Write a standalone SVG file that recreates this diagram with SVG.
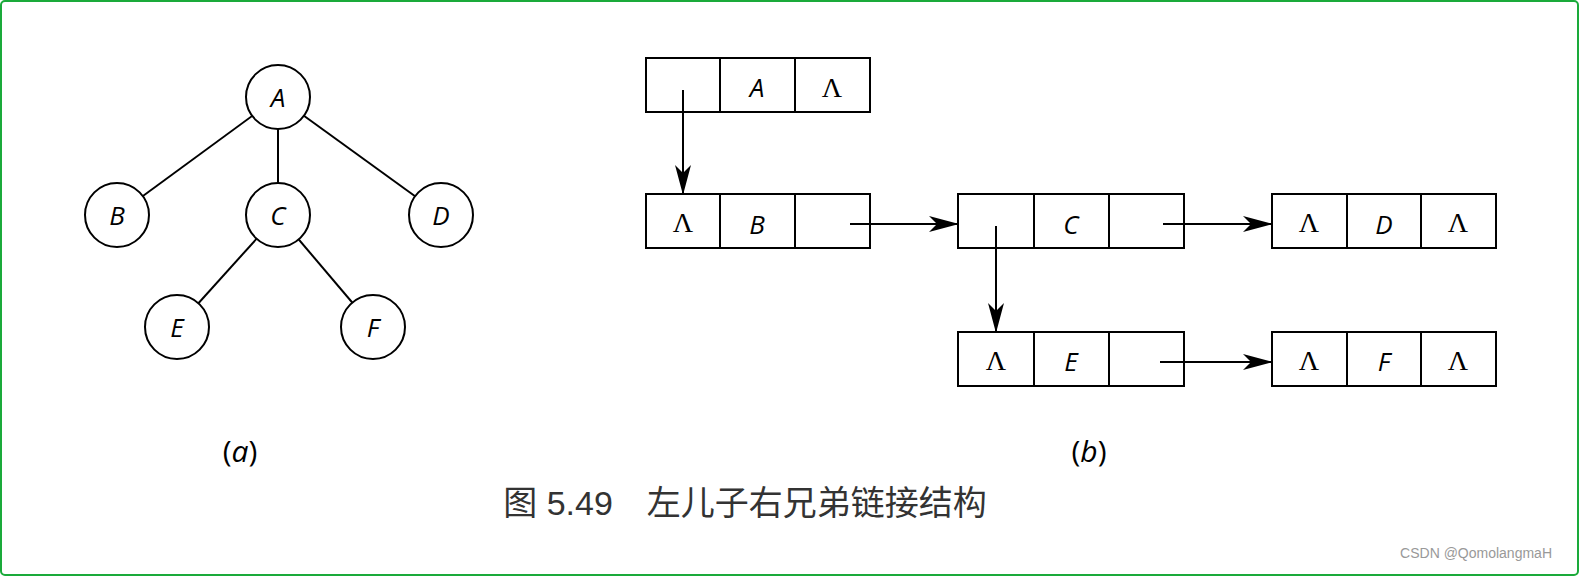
<svg xmlns="http://www.w3.org/2000/svg" width="1579" height="576" viewBox="0 0 1579 576">
<style>
.n{fill:#fff;stroke:#000;stroke-width:2}
.e{stroke:#000;stroke-width:2;fill:none}
.t{font-family:"Open Sans","Liberation Sans",sans-serif;font-style:italic;font-size:26px;text-anchor:middle;dominant-baseline:central}
.l{font-family:"Liberation Serif",serif;font-size:28px;text-anchor:middle;dominant-baseline:central}
</style>
<defs><marker id="ar" markerWidth="30" markerHeight="16" refX="28" refY="8" orient="auto" markerUnits="userSpaceOnUse"><path d="M0,0 L30,8 L0,16 L8,8 Z" fill="#000"/></marker></defs>
<rect x="1" y="1" width="1577" height="574" rx="4" fill="#fff" stroke="#1aaa3a" stroke-width="2"/>
<g id="edges">
<line class="e" x1="278" y1="97" x2="117" y2="215"/><line class="e" x1="278" y1="97" x2="278" y2="215"/><line class="e" x1="278" y1="97" x2="441" y2="215"/>
<line class="e" x1="278" y1="215" x2="177" y2="327"/><line class="e" x1="278" y1="215" x2="373" y2="327"/>
</g>
<g id="A"><circle class="n" cx="278" cy="97" r="32"/><text class="t" x="278" y="97">A</text></g>
<g id="B"><circle class="n" cx="117" cy="215" r="32"/><text class="t" x="117" y="215">B</text></g>
<g id="C"><circle class="n" cx="278" cy="215" r="32"/><text class="t" x="278" y="215">C</text></g>
<g id="D"><circle class="n" cx="441" cy="215" r="32"/><text class="t" x="441" y="215">D</text></g>
<g id="E"><circle class="n" cx="177" cy="327" r="32"/><text class="t" x="177" y="327">E</text></g>
<g id="F"><circle class="n" cx="373" cy="327" r="32"/><text class="t" x="373" y="327">F</text></g>
<g id="bA"><rect class="n" x="646" y="58" width="224" height="54"/><line class="e" x1="720" y1="58" x2="720" y2="112"/><line class="e" x1="795" y1="58" x2="795" y2="112"/><text class="t" x="757" y="87">A</text><text class="l" x="832" y="87">Λ</text></g>
<g id="bB"><rect class="n" x="646" y="194" width="224" height="54"/><line class="e" x1="720" y1="194" x2="720" y2="248"/><line class="e" x1="795" y1="194" x2="795" y2="248"/><text class="l" x="683" y="222">Λ</text><text class="t" x="757" y="224">B</text></g>
<g id="bC"><rect class="n" x="958" y="194" width="226" height="54"/><line class="e" x1="1034" y1="194" x2="1034" y2="248"/><line class="e" x1="1109" y1="194" x2="1109" y2="248"/><text class="t" x="1071" y="224">C</text></g>
<g id="bD"><rect class="n" x="1272" y="194" width="224" height="54"/><line class="e" x1="1347" y1="194" x2="1347" y2="248"/><line class="e" x1="1421" y1="194" x2="1421" y2="248"/><text class="l" x="1309" y="222">Λ</text><text class="t" x="1384" y="224">D</text><text class="l" x="1458" y="222">Λ</text></g>
<g id="bE"><rect class="n" x="958" y="332" width="226" height="54"/><line class="e" x1="1034" y1="332" x2="1034" y2="386"/><line class="e" x1="1109" y1="332" x2="1109" y2="386"/><text class="l" x="996" y="360">Λ</text><text class="t" x="1071" y="361">E</text></g>
<g id="bF"><rect class="n" x="1272" y="332" width="224" height="54"/><line class="e" x1="1347" y1="332" x2="1347" y2="386"/><line class="e" x1="1421" y1="332" x2="1421" y2="386"/><text class="l" x="1309" y="360">Λ</text><text class="t" x="1384" y="361">F</text><text class="l" x="1458" y="360">Λ</text></g>
<g id="arrows">
<line class="e" x1="683" y1="90" x2="683" y2="193" marker-end="url(#ar)"/>
<line class="e" x1="850" y1="224" x2="957" y2="224" marker-end="url(#ar)"/>
<line class="e" x1="1163" y1="224" x2="1271" y2="224" marker-end="url(#ar)"/>
<line class="e" x1="996" y1="226" x2="996" y2="331" marker-end="url(#ar)"/>
<line class="e" x1="1160" y1="362" x2="1271" y2="362" marker-end="url(#ar)"/>
</g>
<g font-family="Open Sans,Liberation Sans,sans-serif" font-size="30" text-anchor="middle">
<text x="240" y="462">(<tspan font-style="italic">a</tspan>)</text>
<text x="1089" y="462">(<tspan font-style="italic">b</tspan>)</text>
</g>
<text x="745" y="515" font-family="Liberation Sans,Noto Sans CJK SC,sans-serif" font-size="34" text-anchor="middle" fill="#333">图 5.49　左儿子右兄弟链接结构</text>
<text x="1552" y="558" font-family="Liberation Sans,Noto Sans CJK SC,sans-serif" font-size="14" text-anchor="end" fill="#999">CSDN @QomolangmaH</text>
</svg>
